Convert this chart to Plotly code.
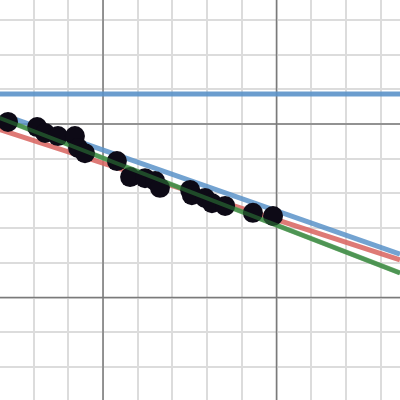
import plotly.graph_objects as go
import numpy as np

# data points (grid units)
pts_x = [-2.74, -1.9, -1.67, -1.3, -0.81, -0.72, -0.52, 0.4, 0.78, 1.21, 1.5, 1.64, 2.51, 2.56, 2.94, 3.14, 3.52, 4.32, 4.9]
pts_y = [0.06, -0.09, -0.26, -0.35, -0.35, -0.69, -0.84, -1.07, -1.53, -1.56, -1.64, -1.84, -1.9, -2.05, -2.13, -2.28, -2.36, -2.56, -2.65]

# fitted lines: (slope, intercept, x start)
blue_fit = (-0.350, -0.75, -2.5)
red_fit = (-0.325, -1.13, -3.0)
green_fit = (-0.387, -0.98, -3.0)
blue_level = 0.86

x_lo, x_hi = -2.97, 8.56
y_lo, y_hi = -7.95, 3.57

fig = go.Figure()

# major grid lines as traces so they sit above the minor grid
ax_col = "#7a7a7a"
for v in [0, 5]:
    fig.add_trace(go.Scatter(x=[v, v], y=[y_lo, y_hi], mode="lines",
                             line=dict(color=ax_col, width=1.5)))
for v in [0, -5]:
    fig.add_trace(go.Scatter(x=[x_lo, x_hi], y=[v, v], mode="lines",
                             line=dict(color=ax_col, width=1.5)))

fig.add_trace(go.Scatter(x=[x_lo, x_hi], y=[blue_level, blue_level], mode="lines",
                         line=dict(color="#5b93c9", width=5), opacity=0.9))
for (m, b, x0), col in [(blue_fit, "#5b93c9"), (red_fit, "#d9635f"), (green_fit, "#5fa55f")]:
    xs = np.array([x0, x_hi])
    fig.add_trace(go.Scatter(x=xs, y=m * xs + b, mode="lines",
                             line=dict(color=col, width=5), opacity=0.85))

fig.add_trace(go.Scatter(x=pts_x, y=pts_y, mode="markers",
                         marker=dict(color="#0d0a16", size=20, line=dict(width=0))))
# green drawn over points like the reference
m, b, x0 = green_fit
xs = np.array([x0, x_hi])
fig.add_trace(go.Scatter(x=xs, y=m * xs + b, mode="lines",
                         line=dict(color="#2f7f3a", width=4), opacity=0.55))

grid = dict(showgrid=True, gridcolor="#dcdcdc", gridwidth=1.5, dtick=1, zeroline=False,
            showticklabels=False, ticks="", showline=False)
fig.update_xaxes(range=[x_lo, x_hi], tick0=0, **grid)
fig.update_yaxes(range=[y_lo, y_hi], tick0=0, **grid)

fig.update_layout(width=400, height=400, margin=dict(l=0, r=0, t=0, b=0),
                  plot_bgcolor="white", paper_bgcolor="white", showlegend=False)

fig.write_html("out.html", config={"displayModeBar": False},
               post_script="document.body.style.margin='0';document.body.style.overflow='hidden';")
